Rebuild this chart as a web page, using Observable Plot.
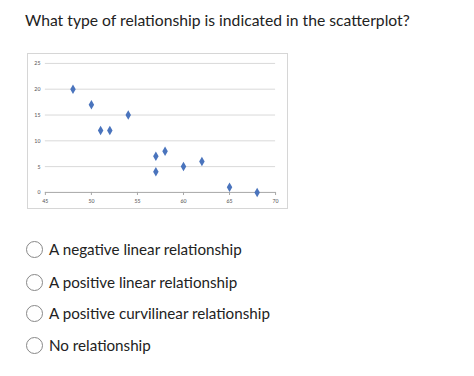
<!DOCTYPE html>
<html><head><meta charset="utf-8">
<script src="https://cdn.jsdelivr.net/npm/d3@7"></script>
<script src="https://cdn.jsdelivr.net/npm/@observablehq/plot@0.6"></script>
<style>
body{margin:0;background:#fff;font-family:Lato,"Noto Sans",sans-serif;width:474px;height:376px;position:relative;overflow:hidden}
#title{position:absolute;left:25px;top:11px;font-size:15.7px;color:#222}
#chart{position:absolute;left:27px;top:53px;width:261px;height:156px;border:1px solid #d6d6d6;box-sizing:border-box}
#chart svg{position:absolute;left:-1px;top:-1px}
.opt{position:absolute;left:26px;font-size:15.2px;color:#222;display:flex;align-items:center}
.opt span.r{width:17px;height:17px;border:1.3px solid #888;border-radius:50%;display:inline-block;margin-right:6px;box-sizing:border-box}
</style></head><body>
<div id="title">What type of relationship is indicated in the scatterplot?</div>
<div id="chart"></div>
<div id="opts"></div>
<script>
const xs = [48, 50, 51, 52, 54, 57, 57, 58, 60, 62, 65, 68];
const ys = [20, 17, 12, 12, 15, 7, 4, 8, 5, 6, 1, 0];
const xTicks = [45, 50, 55, 60, 65, 70];
const yTicks = [0, 5, 10, 15, 20, 25];
const options = ["A negative linear relationship", "A positive linear relationship", "A positive curvilinear relationship", "No relationship"];
const optTops = [240, 273, 304, 336];

const data = xs.map((x, i) => ({x, y: ys[i]}));
const chart = Plot.plot({
  width: 261, height: 156,
  marginLeft: 18, marginRight: 11, marginTop: 10, marginBottom: 16,
  style: {fontFamily: "Calibri, Carlito, 'Liberation Sans', sans-serif", fontSize: "6px", color: "#555", background: "transparent"},
  x: {domain: [45, 70], ticks: xTicks, label: null, tickSize: 0, tickPadding: 6},
  y: {domain: [0, 25], ticks: yTicks, label: null, tickSize: 0, tickPadding: 5},
  marks: [
    Plot.ruleY(yTicks.filter(d => d > 0), {stroke: "#d9d9d9", strokeWidth: 1}),
    Plot.ruleY([0], {stroke: "#a6a6a6", strokeWidth: 1}),
    Plot.ruleX(xTicks, {x: d => d, y1: 0, y2: -0.6, stroke: "#a6a6a6"}),
    Plot.dot(data, {x: "x", y: "y", symbol: "diamond", r: 2.9, fill: "#4a74bd", stroke: "none"})
  ]
});
document.getElementById("chart").appendChild(chart);
const o = document.getElementById("opts");
options.forEach((t, i) => {
  const d = document.createElement("div");
  d.className = "opt";
  d.style.top = optTops[i] + "px";
  d.innerHTML = '<span class="r"></span>' + t;
  o.appendChild(d);
});
</script>
</body></html>
